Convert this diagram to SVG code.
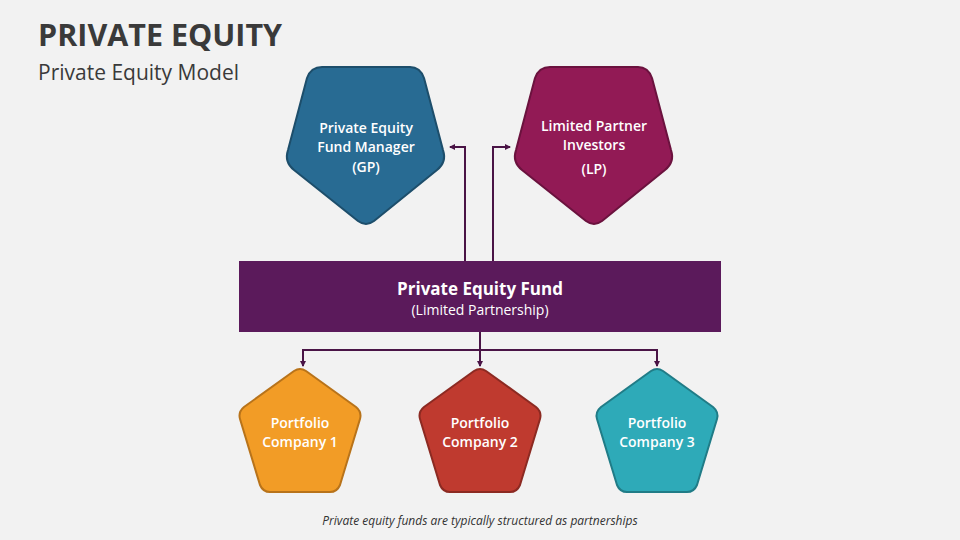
<svg xmlns="http://www.w3.org/2000/svg" width="960" height="540" viewBox="0 0 960 540">
<style>
text{font-family:"Open Sans","Liberation Sans",sans-serif;}
.w{fill:#fff;font-size:14px;text-anchor:middle;font-weight:600}
.p{stroke-width:2;stroke-linejoin:round}
.c{fill:none;stroke:#4a1446;stroke-width:2}
</style>
<defs>
<marker id="a" markerWidth="6" markerHeight="6" refX="5" refY="3" orient="auto" markerUnits="userSpaceOnUse"><path d="M0,0L6,3L0,6z" fill="#4a1446"/></marker>
</defs>
<rect width="960" height="540" fill="#f2f2f2"/>
<text x="38" y="46" font-size="30.5" font-weight="bold" fill="#3a3a3a">PRIVATE EQUITY</text>
<text x="38" y="80" font-size="21" fill="#3a3a3a">Private Equity Model</text>
<g id="connectors">
<path class="c" d="M465,261V147H450" marker-end="url(#a)"/>
<path class="c" d="M493,261V147H510" marker-end="url(#a)"/>
<path class="c" d="M480,332V350M303,350H657"/>
<path class="c" d="M303,349V366" marker-end="url(#a)"/>
<path class="c" d="M480,349V366" marker-end="url(#a)"/>
<path class="c" d="M657,349V366" marker-end="url(#a)"/>
</g>
<g id="gp">
<path class="p" d="M322,67H410Q420,67 424,78L443,150Q447,162 437,170L374,221Q366,227 358,221L294,170Q284,162 288,150L307,78Q311,67 322,67Z" fill="#286b93" stroke="#1d4e6b"/>
<text class="w" x="366" y="133">Private Equity</text>
<text class="w" x="366" y="152">Fund Manager</text>
<text class="w" x="366" y="172">(GP)</text>
</g>
<g id="lp">
<path class="p" d="M550,67H638Q648,67 652,78L671,150Q675,162 665,170L602,221Q594,227 586,221L522,170Q512,162 516,150L535,78Q539,67 550,67Z" fill="#921a55" stroke="#6b123e"/>
<text class="w" x="594" y="131">Limited Partner</text>
<text class="w" x="594" y="150">Investors</text>
<text class="w" x="594" y="174">(LP)</text>
</g>
<g id="fund">
<rect x="239" y="261" width="482" height="71" fill="#5b1a5b"/>
<text x="480" y="295" fill="#fff" font-size="17" font-weight="bold" text-anchor="middle">Private Equity Fund</text>
<text x="480" y="315" fill="#fff" font-size="14" text-anchor="middle">(Limited Partnership)</text>
</g>
<g id="pc1">
<path class="p" d="M294,371Q300,367 306,371L356,407Q362,412 360,419L340,485Q337,492 330,492H270Q263,492 260,485L240,419Q238,412 244,407Z" fill="#f29c26" stroke="#b8731a"/>
<text class="w" x="300" y="428">Portfolio</text>
<text class="w" x="300" y="447">Company 1</text>
</g>
<g id="pc2">
<path class="p" d="M474,371Q480,367 486,371L536,407Q542,412 540,419L520,485Q517,492 510,492H450Q443,492 440,485L420,419Q418,412 424,407Z" fill="#bf3a2f" stroke="#8c2a22"/>
<text class="w" x="480" y="428">Portfolio</text>
<text class="w" x="480" y="447">Company 2</text>
</g>
<g id="pc3">
<path class="p" d="M651,371Q657,367 663,371L713,407Q719,412 717,419L697,485Q694,492 687,492H627Q620,492 617,485L597,419Q595,412 601,407Z" fill="#2eaab8" stroke="#207c87"/>
<text class="w" x="657" y="428">Portfolio</text>
<text class="w" x="657" y="447">Company 3</text>
</g>
<text x="480" y="525" font-size="12" font-style="italic" fill="#333" text-anchor="middle">Private equity funds are typically structured as partnerships</text>
</svg>
